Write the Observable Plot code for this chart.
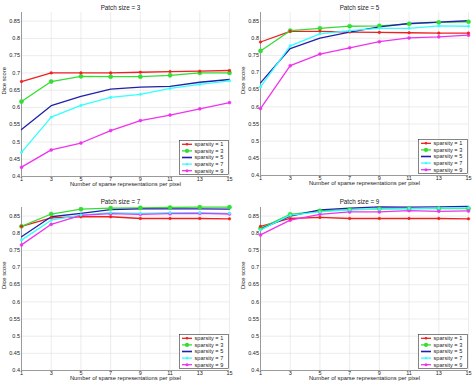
<!DOCTYPE html>
<html>
<head>
<meta charset="utf-8">
<script src="https://cdn.jsdelivr.net/npm/d3@7"></script>
<script src="https://cdn.jsdelivr.net/npm/@observablehq/plot@0.6"></script>
<style>
  html, body { margin: 0; padding: 0; background: #fff; }
  #wrap { position: relative; width: 474px; height: 384px; }
  .panel { position: absolute; width: 237px; height: 192px; }
  .panel svg { display: block; }
  .legend { position: absolute; }
</style>
</head>
<body>
<div id="wrap"></div>
<script>
const xs = [1, 3, 5, 7, 9, 11, 13, 15];
const sparsity = [1, 3, 5, 7, 9];
const colors = ["#ee2020", "#33dd33", "#2020aa", "#33ffff", "#ee33ee"];
const yTicks = [0.4, 0.45, 0.5, 0.55, 0.6, 0.65, 0.7, 0.75, 0.8, 0.85];
const titles = ["Patch size = 3", "Patch size = 5", "Patch size = 7", "Patch size = 9"];
const xLabel = "Number of sparse representations per pixel";
const yLabel = "Dice score";

// rows: sparsity 1, 3, 5, 7, 9
const patch3 = [
  [0.675, 0.700, 0.700, 0.700, 0.702, 0.704, 0.705, 0.707],
  [0.617, 0.675, 0.690, 0.689, 0.689, 0.693, 0.700, 0.700],
  [0.536, 0.605, 0.632, 0.653, 0.659, 0.661, 0.673, 0.681],
  [0.470, 0.572, 0.606, 0.629, 0.638, 0.655, 0.667, 0.677],
  [0.427, 0.477, 0.497, 0.533, 0.562, 0.578, 0.596, 0.614]
];
const patch5 = [
  [0.789, 0.820, 0.820, 0.818, 0.817, 0.816, 0.815, 0.815],
  [0.763, 0.822, 0.829, 0.835, 0.836, 0.842, 0.846, 0.848],
  [0.670, 0.770, 0.800, 0.818, 0.833, 0.843, 0.847, 0.851],
  [0.658, 0.778, 0.813, 0.822, 0.829, 0.829, 0.836, 0.835],
  [0.595, 0.720, 0.754, 0.772, 0.790, 0.801, 0.804, 0.809]
];
const patch7 = [
  [0.820, 0.845, 0.848, 0.848, 0.843, 0.843, 0.843, 0.842],
  [0.820, 0.856, 0.870, 0.873, 0.874, 0.875, 0.876, 0.876],
  [0.790, 0.848, 0.858, 0.869, 0.871, 0.871, 0.871, 0.870],
  [0.780, 0.838, 0.853, 0.860, 0.858, 0.860, 0.860, 0.858],
  [0.766, 0.826, 0.852, 0.857, 0.855, 0.857, 0.858, 0.856]
];
const patch9 = [
  [0.820, 0.843, 0.846, 0.843, 0.843, 0.843, 0.843, 0.842],
  [0.814, 0.855, 0.865, 0.869, 0.871, 0.872, 0.872, 0.872],
  [0.812, 0.850, 0.868, 0.873, 0.877, 0.876, 0.877, 0.878],
  [0.810, 0.853, 0.862, 0.868, 0.870, 0.872, 0.873, 0.874],
  [0.795, 0.838, 0.855, 0.862, 0.862, 0.866, 0.864, 0.865]
];
const allPatches = [patch3, patch5, patch7, patch9];

const dotR = [1.3, 2.1, 0, 1.2, 1.5];
const font = "'Liberation Sans', Arial, Helvetica, sans-serif";
const W = 237, H = 192;
const margins = [
  {l: 21, r: 8, t: 12, b: 16, left: 0, top: 0, td: -7},
  {l: 23, r: 6, t: 12, b: 17, left: 237, top: 0, td: -7},
  {l: 21, r: 8, t: 15, b: 14, left: 0, top: 192, td: -8},
  {l: 23, r: 6, t: 15, b: 14, left: 237, top: 192, td: -8}
];

function makePanel(idx) {
  const m = margins[idx];
  const series = allPatches[idx];
  const data = series.flatMap((vals, i) => vals.map((v, j) => ({x: xs[j], y: v, s: sparsity[i], r: dotR[i]})));
  const plot = Plot.plot({
    width: W, height: H,
    marginLeft: m.l, marginRight: m.r, marginTop: m.t, marginBottom: m.b,
    style: {fontFamily: font, fontSize: "5.5px", background: "white", overflow: "visible", color: "#222"},
    x: {domain: [1, 15]},
    y: {domain: [0.4, 0.875]},
    color: {type: "ordinal", domain: sparsity, range: colors},
    r: {type: "identity"},
    marks: [
      Plot.gridX(xs, {stroke: "#d8d8d8", strokeOpacity: 1, strokeWidth: 0.5}),
      Plot.gridY(yTicks, {stroke: "#d8d8d8", strokeOpacity: 1, strokeWidth: 0.5}),
      Plot.axisX({ticks: xs, tickSize: 0, tickPadding: 0.5, label: null, tickFormat: d => String(d), fontSize: 5.5}),
      Plot.axisY({ticks: yTicks, tickSize: 0, tickPadding: 1.5, label: null, tickFormat: d => String(d), fontSize: 5.5}),
      Plot.ruleX([1], {stroke: "#777", strokeWidth: 0.7}),
      Plot.ruleY([0.4], {stroke: "#777", strokeWidth: 0.7}),
      Plot.line(data, {x: "x", y: "y", z: "s", stroke: "s", strokeWidth: 1.3}),
      Plot.dot(data.filter(d => d.r > 0), {x: "x", y: "y", r: "r", fill: "s", stroke: "s", strokeWidth: 0.5}),
      Plot.text([titles[idx]], {frameAnchor: "top", dy: m.td, dx: -5, fontSize: 6.3, fill: "#222"}),
      Plot.text([xLabel], {frameAnchor: "bottom", dy: 9.5, fontSize: 5.8, fill: "#222"}),
      Plot.text([yLabel], {frameAnchor: "left", dx: -17, rotate: -90, fontSize: 5.8, fill: "#222"})
    ]
  });
  const div = document.createElement("div");
  div.className = "panel";
  div.style.left = m.left + "px";
  div.style.top = m.top + "px";
  div.appendChild(plot);

  // legend
  const lw = 50, lh = 35, rowH = 6.6;
  const leg = d3.create("svg").attr("class", "legend").attr("width", lw).attr("height", lh)
    .style("left", (W - m.r - lw) + "px").style("top", (H - m.b - lh - 1.5) + "px")
    .style("overflow", "visible");
  leg.append("rect").attr("x", 0.5).attr("y", 0.5).attr("width", lw - 1).attr("height", lh - 1)
    .attr("fill", "white").attr("stroke", "#333").attr("stroke-width", 0.6);
  sparsity.forEach((s, i) => {
    const y = 4.3 + i * rowH;
    leg.append("line").attr("x1", 3).attr("x2", 13).attr("y1", y).attr("y2", y)
      .attr("stroke", colors[i]).attr("stroke-width", i === 2 ? 1.6 : 1.3);
    if (dotR[i] > 0) leg.append("circle").attr("cx", 8).attr("cy", y).attr("r", dotR[i])
      .attr("fill", colors[i]);
    leg.append("text").attr("x", 15.5).attr("y", y).attr("dy", "0.35em")
      .attr("font-family", font).attr("font-size", 5.6).attr("fill", "#222")
      .text("sparsity = " + s);
  });
  div.appendChild(leg.node());
  return div;
}

const wrap = document.getElementById("wrap");
for (let i = 0; i < 4; i++) wrap.appendChild(makePanel(i));
</script>
</body>
</html>
